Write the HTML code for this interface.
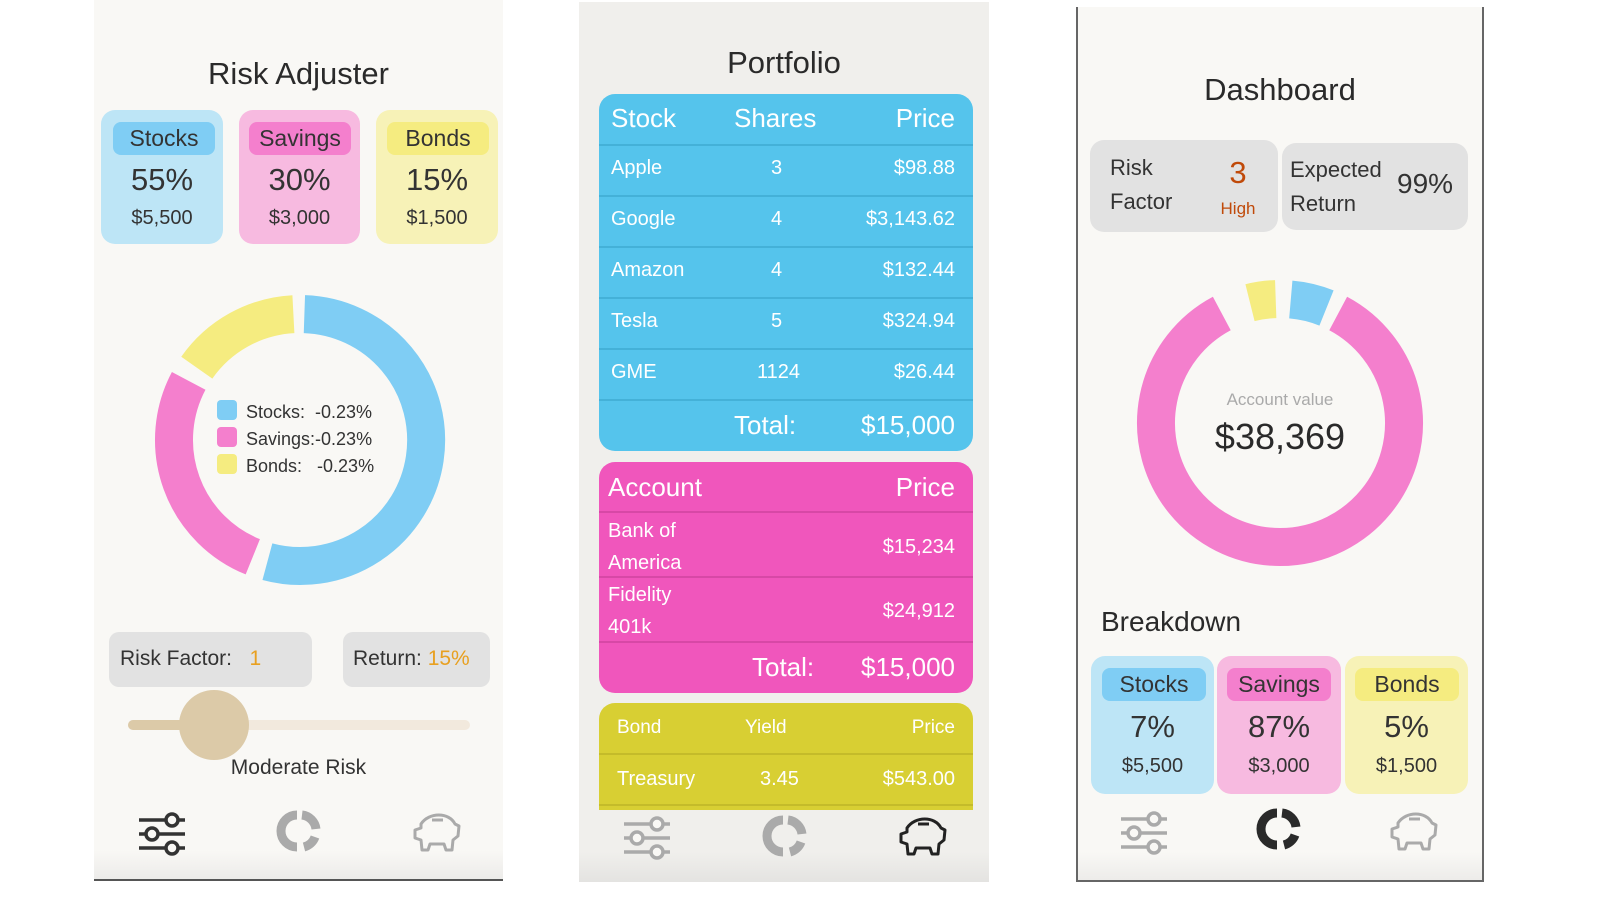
<!DOCTYPE html>
<html><head><meta charset="utf-8">
<style>
*{margin:0;padding:0;box-sizing:border-box}
body{width:1600px;height:900px;background:#fff;position:relative;overflow:hidden;font-family:"Liberation Sans",sans-serif;color:#333}
.a{position:absolute}
.panel{position:absolute;background:#f9f8f5}
.c{text-align:center}
.card{position:absolute;border-radius:14px}
.tag{position:absolute;border-radius:8px;font-size:23px;text-align:center;line-height:33px;color:#333}
.pct{position:absolute;width:100%;text-align:center;font-size:31px;color:#333}
.amt{position:absolute;width:100%;text-align:center;font-size:20px;color:#333}
.row{position:absolute;left:0;width:374px;color:#fff}
.row span{position:absolute}
.line{position:absolute;left:0;width:374px;height:2px}
svg.a{z-index:5}
</style></head><body>

<!-- PANELS -->
<div class="panel" style="left:94px;top:0;width:409px;height:880px;background:linear-gradient(#f9f8f5 0,#f9f8f5 850px,#ecebe9 880px)"></div>
<div class="a" style="left:94px;top:879px;width:409px;height:2px;background:#555"></div>
<div class="panel" style="left:579px;top:2px;width:410px;height:880px;background:linear-gradient(#f0efec 0,#f0efec 850px,#e4e3e1 880px)"></div>
<div class="panel" style="left:1076px;top:7px;width:408px;height:875px;border-left:2px solid #666;border-right:2px solid #666;border-bottom:2px solid #666;background:linear-gradient(#f9f8f5 0,#f9f8f5 845px,#ecebe9 875px)"></div>

<!-- LEFT -->
<div class="a c" style="left:94px;top:56px;width:409px;font-size:31px;color:#2a2a2a">Risk Adjuster</div>

<div class="card" style="left:101px;top:110px;width:122px;height:134px;background:#bde5f6">
 <div class="tag" style="left:12px;top:12px;width:102px;background:#7fcdf4">Stocks</div>
 <div class="pct" style="top:52px">55%</div><div class="amt" style="top:97px">$5,500</div></div>
<div class="card" style="left:239px;top:110px;width:121px;height:134px;background:#f7bae0">
 <div class="tag" style="left:10px;top:12px;width:102px;background:#f47fcd">Savings</div>
 <div class="pct" style="top:52px">30%</div><div class="amt" style="top:97px">$3,000</div></div>
<div class="card" style="left:376px;top:110px;width:122px;height:134px;background:#f7f2b7">
 <div class="tag" style="left:11px;top:12px;width:102px;background:#f5ec80">Bonds</div>
 <div class="pct" style="top:52px">15%</div><div class="amt" style="top:97px">$1,500</div></div>

<svg class="a" style="left:0;top:0" width="1600" height="900">
 <g fill="none" stroke-width="38" stroke-linejoin="round">
  <path d="M304.4 314.1 A126 126 0 1 1 267.4 561.7" stroke="#7fcdf4"/>
  <path d="M252.8 556.8 A126 126 0 0 1 188.7 380.9" stroke="#f47fcd"/>
  <path d="M196.8 367.7 A126 126 0 0 1 293.4 314.2" stroke="#f5ec80"/>
  <path d="M1338.2 313.5 A124 124 0 1 1 1221.8 313.5" stroke="#f47fcd"/>
  <path d="M1250 302.7 A124 124 0 0 1 1275.7 299.1" stroke="#f5ec80"/>
  <path d="M1290.8 299.5 A124 124 0 0 1 1326.5 308" stroke="#7fcdf4"/>
 </g>
</svg>

<div class="a" style="left:217px;top:400px;width:20px;height:20px;border-radius:4px;background:#7fcdf4"></div>
<div class="a" style="left:217px;top:427px;width:20px;height:20px;border-radius:4px;background:#f47fcd"></div>
<div class="a" style="left:217px;top:454px;width:20px;height:20px;border-radius:4px;background:#f5ec80"></div>
<div class="a" style="left:246px;top:399px;font-size:18px;line-height:27px;color:#333">Stocks:&nbsp;&nbsp;-0.23%<br>Savings:-0.23%<br>Bonds:&nbsp;&nbsp;&nbsp;-0.23%</div>

<div class="a" style="left:109px;top:632px;width:203px;height:55px;border-radius:10px;background:#e2e2e2"></div>
<div class="a" style="left:120px;top:647px;font-size:21px;color:#333">Risk Factor:&nbsp;&nbsp; <span style="color:#e8a020">1</span></div>
<div class="a" style="left:343px;top:632px;width:147px;height:55px;border-radius:10px;background:#e2e2e2"></div>
<div class="a" style="left:353px;top:647px;font-size:21px;color:#333">Return: <span style="color:#e8a020">15%</span></div>

<div class="a" style="left:128px;top:720px;width:342px;height:10px;border-radius:5px;background:#f2e9dd"></div>
<div class="a" style="left:128px;top:720px;width:90px;height:10px;border-radius:5px;background:#dccaa8"></div>
<div class="a" style="left:179px;top:690px;width:70px;height:70px;border-radius:50%;background:#dccaa8"></div>
<div class="a c" style="left:94px;top:756px;width:409px;font-size:21px;color:#333">Moderate Risk</div>

<!-- MIDDLE -->
<div class="a c" style="left:579px;top:45px;width:410px;font-size:31px;color:#2a2a2a">Portfolio</div>

<div class="a" style="left:599px;top:94px;width:374px;height:357px;border-radius:16px;background:#55c4ec;overflow:hidden">
 <div class="row" style="top:9px;font-size:26px"><span style="left:12px">Stock</span><span style="left:135px">Shares</span><span style="right:18px">Price</span></div>
 <div class="line" style="top:50px;background:#44b1d8"></div>
 <div class="row" style="top:63px;font-size:20px"><span style="left:12px">Apple</span><span style="left:172px">3</span><span style="right:18px">$98.88</span></div>
 <div class="line" style="top:101px;background:#44b1d8"></div>
 <div class="row" style="top:114px;font-size:20px"><span style="left:12px">Google</span><span style="left:172px">4</span><span style="right:18px">$3,143.62</span></div>
 <div class="line" style="top:152px;background:#44b1d8"></div>
 <div class="row" style="top:165px;font-size:20px"><span style="left:12px">Amazon</span><span style="left:172px">4</span><span style="right:18px">$132.44</span></div>
 <div class="line" style="top:203px;background:#44b1d8"></div>
 <div class="row" style="top:216px;font-size:20px"><span style="left:12px">Tesla</span><span style="left:172px">5</span><span style="right:18px">$324.94</span></div>
 <div class="line" style="top:254px;background:#44b1d8"></div>
 <div class="row" style="top:267px;font-size:20px"><span style="left:12px">GME</span><span style="left:158px">1124</span><span style="right:18px">$26.44</span></div>
 <div class="line" style="top:305px;background:#44b1d8"></div>
 <div class="row" style="top:316px;font-size:26px"><span style="left:135px">Total:</span><span style="right:18px">$15,000</span></div>
</div>

<div class="a" style="left:599px;top:462px;width:374px;height:231px;border-radius:16px;background:#f056bc;overflow:hidden">
 <div class="row" style="top:10px;font-size:26px"><span style="left:9px">Account</span><span style="right:18px">Price</span></div>
 <div class="line" style="top:49px;background:#d748a6"></div>
 <div class="row" style="top:53px;font-size:20px;line-height:32px"><span style="left:9px">Bank of<br>America</span><span style="right:18px;top:16px">$15,234</span></div>
 <div class="line" style="top:114px;background:#d748a6"></div>
 <div class="row" style="top:117px;font-size:20px;line-height:32px"><span style="left:9px">Fidelity<br>401k</span><span style="right:18px;top:16px">$24,912</span></div>
 <div class="line" style="top:179px;background:#d748a6"></div>
 <div class="row" style="top:190px;font-size:26px"><span style="left:153px">Total:</span><span style="right:18px">$15,000</span></div>
</div>

<div class="a" style="left:599px;top:703px;width:374px;height:107px;border-radius:16px 16px 0 0;background:#d8cf33;overflow:hidden">
 <div class="row" style="top:14px;font-size:19px"><span style="left:18px">Bond</span><span style="left:146px">Yield</span><span style="right:18px">Price</span></div>
 <div class="line" style="top:50px;background:#c4bb2a"></div>
 <div class="row" style="top:65px;font-size:20px"><span style="left:18px">Treasury</span><span style="left:161px">3.45</span><span style="right:18px">$543.00</span></div>
 <div class="line" style="top:101px;background:#c4bb2a"></div>
</div>

<!-- RIGHT -->
<div class="a c" style="left:1076px;top:72px;width:408px;font-size:31px;color:#2a2a2a">Dashboard</div>

<div class="a" style="left:1090px;top:140px;width:188px;height:92px;border-radius:14px;background:#e2e2e2"></div>
<div class="a" style="left:1110px;top:151px;font-size:22px;line-height:34px;color:#333">Risk<br>Factor</div>
<div class="a c" style="left:1210px;top:155px;width:56px;font-size:31px;color:#c04a0a">3</div>
<div class="a c" style="left:1210px;top:199px;width:56px;font-size:17px;color:#c04a0a">High</div>
<div class="a" style="left:1282px;top:143px;width:186px;height:87px;border-radius:14px;background:#e2e2e2"></div>
<div class="a" style="left:1290px;top:153px;font-size:22px;line-height:34px;color:#333">Expected<br>Return</div>
<div class="a" style="left:1397px;top:168px;font-size:28px;color:#333">99%</div>

<div class="a c" style="left:1180px;top:390px;width:200px;font-size:17px;color:#aaa">Account value</div>
<div class="a c" style="left:1160px;top:416px;width:240px;font-size:36px;color:#2a2a2a">$38,369</div>

<div class="a" style="left:1101px;top:606px;font-size:28px;color:#2a2a2a">Breakdown</div>

<div class="card" style="left:1091px;top:656px;width:123px;height:138px;background:#bde5f6">
 <div class="tag" style="left:11px;top:12px;width:104px;background:#7fcdf4">Stocks</div>
 <div class="pct" style="top:53px">7%</div><div class="amt" style="top:99px">$5,500</div></div>
<div class="card" style="left:1217px;top:656px;width:124px;height:138px;background:#f7bae0">
 <div class="tag" style="left:10px;top:12px;width:104px;background:#f47fcd">Savings</div>
 <div class="pct" style="top:53px">87%</div><div class="amt" style="top:99px">$3,000</div></div>
<div class="card" style="left:1345px;top:656px;width:123px;height:138px;background:#f7f2b7">
 <div class="tag" style="left:10px;top:12px;width:104px;background:#f5ec80">Bonds</div>
 <div class="pct" style="top:53px">5%</div><div class="amt" style="top:99px">$1,500</div></div>

<!-- ICONS -->
<svg class="a" style="left:0;top:0" width="1600" height="900">
 <defs>
  <g id="sl" fill="none" stroke-width="3.5">
   <line x1="-23" y1="-14" x2="23" y2="-14"/><line x1="-23" y1="0" x2="23" y2="0"/><line x1="-23" y1="14" x2="23" y2="14"/>
   <circle cx="10" cy="-14" r="6" fill="#f9f8f5"/><circle cx="-10" cy="0" r="6" fill="#f9f8f5"/><circle cx="10" cy="14" r="6" fill="#f9f8f5"/>
  </g>
  <g id="dn" fill="none" stroke-width="9">
   <path d="M2 -16 A16 16 0 0 1 16 -2"/><path d="M15 6 A16 16 0 0 1 4 16"/><path d="M-3 16 A16 16 0 0 1 -3 -16"/>
  </g>
  <g id="pg" fill="none" stroke-width="3" stroke-linejoin="round">
   <path d="M-16 -8 C-8 -20 12 -20 18 -8 L22 -6 L21 4 L16 8 L15 18 L9 18 L7 12 L-7 12 L-9 18 L-15 18 L-16 8 L-22 6 L-22 -2 L-16 -4 Z"/>
   <path d="M-5 -12 L6 -12"/>
  </g>
 </defs>
 <use href="#sl" x="162" y="834" stroke="#333"/>
 <use href="#dn" x="300" y="831" stroke="#aaa"/>
 <use href="#pg" x="437" y="832" stroke="#aaa"/>
 <use href="#sl" x="647" y="838" stroke="#aaa"/>
 <use href="#dn" x="786" y="836" stroke="#aaa"/>
 <use href="#pg" x="923" y="836" stroke="#222"/>
 <use href="#sl" x="1144" y="833" stroke="#aaa"/>
 <use href="#dn" x="1280" y="829" stroke="#2a2a2a"/>
 <use href="#pg" x="1414" y="831" stroke="#aaa"/>
</svg>
</body></html>
